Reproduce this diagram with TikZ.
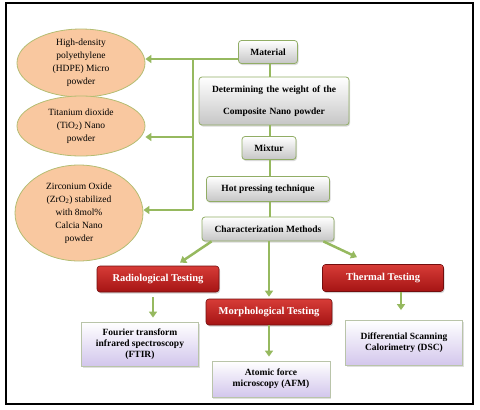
\documentclass[tikz,border=0pt]{standalone}
\usepackage{fontspec}
\setmainfont{Liberation Serif}
\usepackage{tikz}
\usetikzlibrary{arrows.meta}
\usetikzlibrary{positioning,shapes,shadows}
\usetikzlibrary{calc}
\definecolor{lgreen}{RGB}{150,185,95}
\definecolor{peach}{RGB}{249,200,160}
\definecolor{dred}{RGB}{165,20,20}
\definecolor{mred}{RGB}{215,60,55}
\definecolor{lav}{RGB}{210,198,236}
\tikzset{
  graybox/.style={draw=lgreen!80!gray, line width=0.8pt, rounded corners=3pt, inner sep=0pt,
    top color=white, bottom color=gray!45, font=\fontsize{9.5}{11}\selectfont\bfseries,
    align=center, drop shadow={shadow xshift=1pt, shadow yshift=-1.5pt, opacity=0.3}},
  redbox/.style={draw=dred!70!black, line width=0.6pt, rounded corners=3pt, inner sep=0pt,
    top color=mred, bottom color=dred, text=white, font=\fontsize{10.5}{12}\selectfont\bfseries,
    drop shadow={shadow xshift=1pt, shadow yshift=-1.5pt, opacity=0.35}},
  lavbox/.style={draw=lgreen!50!gray!60, line width=0.8pt, inner sep=0pt,
    top color=white, bottom color=lav, font=\fontsize{9.5}{11}\selectfont\bfseries,
    align=center, drop shadow={shadow xshift=1pt, shadow yshift=-1.5pt, opacity=0.25}},
  oval/.style={ellipse, draw=lgreen!70!peach, line width=0.8pt, fill=peach, inner sep=0pt,
    font=\fontsize{9.5}{13}\selectfont, align=center},
  link/.style={draw=lgreen, line width=2.5pt},
  arr/.style={link, -{Triangle[width=8pt,length=6pt]}}
}
\begin{document}
\begin{tikzpicture}[x=1pt,y=-1pt]
            \useasboundingbox (0,0) rectangle (480,410);
            \draw[line width=1.5pt] (6,3) rectangle (473,404);
            % main chain
            \node[graybox, minimum width=59pt, minimum height=23pt] (Mat) at (268,52) {Material};
            \node[graybox, minimum width=150pt, minimum height=48pt, text width=146pt,
                  font=\fontsize{9.5}{22}\selectfont\bfseries] (Det) at (274,101)
                  {Determining the weight of the\\Composite Nano powder};
            \node[graybox, minimum width=54pt, minimum height=23pt] (Mix) at (269,148) {Mixtur};
            \node[graybox, minimum width=123pt, minimum height=25pt] (Hot) at (268,189) {Hot pressing technique};
            \node[graybox, minimum width=132pt, minimum height=24pt] (Char) at (268,229) {Characterization Methods};
            % testing
            \node[redbox, minimum width=122pt, minimum height=26pt] (Rad) at (158,279) {Radiological Testing};
            \node[redbox, minimum width=121pt, minimum height=27pt] (Thr) at (383,278) {Thermal Testing};
            \node[redbox, minimum width=126pt, minimum height=26pt] (Mor) at (269,312) {Morphological Testing};
            \node[lavbox, minimum width=117pt, minimum height=44pt] (FTIR) at (140,344) {Fourier transform\\infrared spectroscopy\\(FTIR)};
            \node[lavbox, minimum width=118pt, minimum height=36pt] (AFM) at (271,379) {Atomic force\\microscopy (AFM)};
            \node[lavbox, minimum width=117pt, minimum height=45pt] (DSC) at (404,343) {Differential Scanning\\Calorimetry (DSC)};
            % materials
            \node[oval, minimum width=128pt, minimum height=68pt] (HDPE) at (81,63) {High-density\\polyethylene\\(HDPE) Micro\\powder};
            \node[oval, minimum width=128pt, minimum height=60pt] (TiO) at (81,126) {Titanium dioxide\\(TiO\textsubscript{2}) Nano\\powder};
            \node[oval, minimum width=128pt, minimum height=96pt] (ZrO) at (79,213) {Zirconium Oxide\\(ZrO\textsubscript{2}) stabilized\\with 8mol\%\\Calcia Nano\\powder};
            \coordinate (b1) at (193,59);
            \coordinate (b2) at (193,137);
            \coordinate (b3) at (193,210);
    	    \path[link] ([yshift=-7pt]Mat.west) -- (b1) -- (b3);
    	    \path[arr] (b1) -- (b1 -| HDPE.east);
    	    \path[arr] (b2) -- (b2 -| TiO.east);
    	    \path[arr] (b3) -- (b3 -| ZrO.east);
    	    \path[link] ([xshift=2pt]Mat.south) -- ([xshift=2pt]Mat.south |- Det.north);
    	    \path[link] ([xshift=2pt]Mat.south |- Det.south) -- ([xshift=1pt]Mix.north);
    	    \path[link] ([xshift=1pt]Mix.south) -- ([xshift=2pt]Hot.north);
    	    \path[link] ([xshift=2pt]Hot.south) -- ([xshift=2pt]Char.north);
    	    \path[arr] ([xshift=10pt]Char.south west) -- ([xshift=22pt,yshift=3pt]Rad.north);
    	    \path[arr] ([xshift=-11pt]Char.south east) -- ([xshift=-26pt,yshift=7pt]Thr.north);
    	    \path[arr, shorten >=2pt] ([xshift=1pt]Char.south) -- ([xshift=1pt]Char.south |- Mor.north);
    	    \path[arr, shorten <=5pt, shorten >=4pt] ([xshift=-5pt]Rad.south) -- ([xshift=-5pt]Rad.south |- FTIR.north);
    	    \path[arr, shorten >=4pt] (Mor.south) -- (Mor.south |- AFM.north);
    	    \path[arr, shorten >=10pt] ([xshift=18pt]Thr.south) -- ([xshift=18pt]Thr.south |- DSC.north);
    	\end{tikzpicture}
\end{document}
